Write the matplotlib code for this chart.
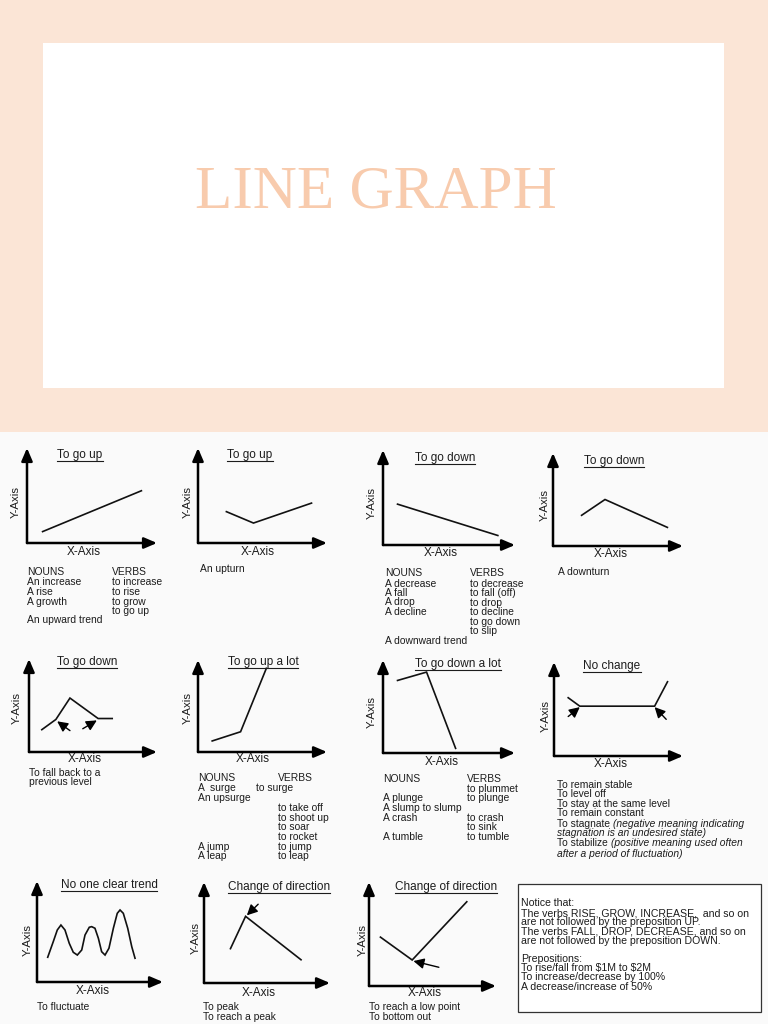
import matplotlib
matplotlib.use("Agg")
import matplotlib.pyplot as plt
from matplotlib.lines import Line2D
from matplotlib.patches import Rectangle

W, H = 768, 1024
INK = "#1c1c1c"

# ---- line data for each mini chart (axis units 0..100) ----
up_x, up_y = [12, 88], [12, 55]
upturn_x, upturn_y = [22, 43, 88], [33, 21, 42]
down_x, down_y = [11, 87], [43, 10]
downturn_x, downturn_y = [22, 40, 88], [33, 50, 20]
fallback_x, fallback_y = [10, 21, 32, 54, 65], [24, 35, 58, 36, 36]
surge_x, surge_y = [11, 33, 53], [12, 22, 91]
plunge_x, plunge_y = [11, 33, 55], [78, 87, 5]
flat_x, flat_y = [11, 20, 78, 88], [62, 53, 53, 79]
fluct_x = [8.5, 12.9, 16.1, 19.0, 22.2, 25.6, 28.8, 32.0, 35.5, 38.1, 41.5, 43.4,
           46.0, 48.7, 51.3, 54.0, 57.1, 60.6, 63.7, 65.9, 68.5, 72.0, 75.2, 77.8]
fluct_y = [24.5, 39.9, 51.5, 56.4, 51.5, 38.3, 29.4, 26.7, 31.7, 46.5, 54.2, 54.8,
           53.2, 43.3, 30.0, 26.7, 33.4, 53.2, 68.0, 71.3, 68.0, 53.2, 35.0, 23.5]
peak_x, peak_y = [21, 33, 77], [34, 66, 23]
low_x, low_y = [9, 34, 77], [47, 25, 81]

# pointer arrows: (tail x, tail y, tip x, tip y)
fallback_ptr = [(32, 23, 22, 33), (42, 25, 53, 34)]
flat_ptr = [(11, 42, 20, 52), (87, 39, 78, 52)]
peak_ptr = [(43, 78, 34, 67)]
low_ptr = [(55, 18, 35, 24)]

titles = ["To go up", "To go up", "To go down", "To go down", "To go down",
          "To go up a lot", "To go down a lot", "No change", "No one clear trend",
          "Change of direction", "Change of direction"]

# page layout (pixels): y-axis x, x-axis y, x arrow tip, y arrow tip
frames = [(27, 543, 157, 448), (198, 543, 327, 448), (383, 545, 515, 450),
          (553, 546, 683, 453), (29, 752, 157, 659), (198, 752, 327, 660),
          (383, 753, 515, 660), (554, 756, 683, 662), (37, 982, 163, 881),
          (204, 983, 330, 882), (369, 986, 496, 882)]
title_pos = [(80, 455), (250, 455), (445, 458), (614, 461), (87, 662), (263, 662),
             (458, 664), (612, 666), (109, 885), (279, 887), (446, 887)]
ylab_pos = [(16, 502), (188, 502), (372, 503), (545, 505), (17, 708), (188, 708),
            (372, 712), (546, 716), (28, 940), (196, 938), (363, 940)]
xlab_pos = [(84, 552), (258, 552), (441, 553), (611, 554), (85, 759), (253, 759),
            (442, 762), (611, 764), (93, 991), (259, 993), (425, 993)]

series = [(up_x, up_y, []), (upturn_x, upturn_y, []), (down_x, down_y, []),
          (downturn_x, downturn_y, []), (fallback_x, fallback_y, fallback_ptr),
          (surge_x, surge_y, []), (plunge_x, plunge_y, []), (flat_x, flat_y, flat_ptr),
          (fluct_x, fluct_y, []), (peak_x, peak_y, peak_ptr), (low_x, low_y, low_ptr)]

# word lists under the charts: (x, y, text)
notes = [
    (27, 572, "NOUNS"), (112, 572, "VERBS"), (27, 582, "An increase"), (112, 582, "to increase"),
    (27, 592, "A rise"), (112, 592, "to rise"), (27, 602, "A growth"), (112, 602, "to grow"),
    (112, 611, "to go up"), (27, 620, "An upward trend"),
    (200, 569, "An upturn"),
    (385, 573, "NOUNS"), (470, 573, "VERBS"), (385, 584, "A decrease"), (470, 584, "to decrease"),
    (385, 593, "A fall"), (470, 593, "to fall (off)"), (385, 602, "A drop"), (470, 603, "to drop"),
    (385, 612, "A decline"), (470, 612, "to decline"), (470, 622, "to go down"),
    (470, 631, "to slip"), (385, 641, "A downward trend"),
    (558, 572, "A downturn"),
    (29, 773, "To fall back to a"), (29, 782, "previous level"),
    (198, 778, "NOUNS"), (278, 778, "VERBS"), (198, 788, "A  surge"), (256, 788, "to surge"),
    (198, 798, "An upsurge"), (278, 808, "to take off"), (278, 818, "to shoot up"),
    (278, 827, "to soar"), (278, 837, "to rocket"), (198, 847, "A jump"), (278, 847, "to jump"),
    (198, 856, "A leap"), (278, 856, "to leap"),
    (383, 779, "NOUNS"), (467, 779, "VERBS"), (467, 789, "to plummet"), (383, 798, "A plunge"),
    (467, 798, "to plunge"), (383, 808, "A slump to slump"), (383, 818, "A crash"),
    (467, 818, "to crash"), (467, 827, "to sink"), (383, 837, "A tumble"), (467, 837, "to tumble"),
    (557, 785, "To remain stable"), (557, 794, "To level off"),
    (557, 804, "To stay at the same level"), (557, 813, "To remain constant"),
    (37, 1007, "To fluctuate"), (203, 1007, "To peak"), (203, 1017, "To reach a peak"),
    (369, 1007, "To reach a low point"), (369, 1017, "To bottom out"),
]
# lines with a plain start and an italic remark
mixed_notes = [(824, "To stagnate", "(negative meaning indicating"),
               (843, "To stabilize", "(positive meaning used often")]
italic_notes = [(557, 833, "stagnation is an undesired state)"),
                (557, 854, "after a period of fluctuation)")]
box_lines = [
    (903, "Notice that:"), (913, "The verbs RISE, GROW, INCREASE,  and so on"),
    (922, "are not followed by the preposition UP."),
    (932, "The verbs FALL, DROP, DECREASE, and so on"),
    (941, "are not followed by the preposition DOWN."),
    (959, "Prepositions:"), (968, "To rise/fall from \\$1M to \\$2M"),
    (977, "To increase/decrease by 100%"), (987, "A decrease/increase of 50%"),
]

plt.rcParams["font.family"] = ["Liberation Sans", "DejaVu Sans"]
BODY = 7.4


def fx(x):
    return x / W


def fy(y):
    return 1 - y / H


fig = plt.figure(figsize=(W / 100, H / 100), dpi=100)
fig.patch.set_facecolor("#fafafa")

# slide header
fig.add_artist(Rectangle((0, fy(432)), 1, 432 / H, transform=fig.transFigure,
                         facecolor="#FBE5D6", edgecolor="none"))
fig.add_artist(Rectangle((fx(43), fy(388)), (724 - 43) / W, (388 - 43) / H,
                         transform=fig.transFigure, facecolor="white", edgecolor="none"))
fig.text(fx(376), fy(193), "LINE GRAPH", ha="center", va="center", fontsize=44,
         family="Liberation Serif", color="#F8CBAD")

axis_arrow = dict(arrowstyle="-|>,head_length=0.7,head_width=0.3", lw=1.8, color="black",
                  mutation_scale=11, shrinkA=0, shrinkB=0)
ptr_arrow = dict(arrowstyle="-|>,head_length=0.7,head_width=0.35", lw=1.0, color="black",
                 mutation_scale=9, shrinkA=0, shrinkB=0)

title_texts = []
for i, (x0, y0, x1, y1) in enumerate(frames):
    ax = fig.add_axes([fx(x0), fy(y0), (x1 - x0) / W, (y0 - y1) / H])
    ax.set_xlim(0, 100)
    ax.set_ylim(0, 100)
    ax.axis("off")
    ax.annotate("", xy=(1, 0), xytext=(0, 0), xycoords="axes fraction", arrowprops=axis_arrow)
    ax.annotate("", xy=(0, 1), xytext=(0, 0), xycoords="axes fraction", arrowprops=axis_arrow)
    xs, ys, ptrs = series[i]
    ax.plot(xs, ys, color="#111111", lw=1.2, solid_joinstyle="miter")
    for tx, ty, hx, hy in ptrs:
        ax.annotate("", xy=(hx, hy), xytext=(tx, ty), arrowprops=ptr_arrow)

    tx, ty = title_pos[i]
    title_texts.append(fig.text(fx(tx), fy(ty), titles[i], ha="center", va="center",
                                fontsize=8.5, color=INK))
    lx, ly = ylab_pos[i]
    fig.text(fx(lx), fy(ly), "Y-Axis", ha="center", va="center", rotation=90,
             fontsize=8.2, color=INK)
    lx, ly = xlab_pos[i]
    fig.text(fx(lx), fy(ly), "X-Axis", ha="center", va="center", fontsize=8.5, color=INK)

for x, y, s in notes:
    fig.text(fx(x), fy(y), s, ha="left", va="center", fontsize=BODY, color=INK)
for x, y, s in italic_notes:
    fig.text(fx(x), fy(y), s, ha="left", va="center", fontsize=BODY, color=INK, style="italic")

# notice box
fig.add_artist(Rectangle((fx(518), fy(1012)), (761 - 518) / W, (1012 - 884) / H,
                         transform=fig.transFigure, facecolor="white", edgecolor="#333333",
                         lw=0.9))
for y, s in box_lines:
    fig.text(fx(521), fy(y), s, ha="left", va="center", fontsize=7.6, color=INK)

fig.canvas.draw()
renderer = fig.canvas.get_renderer()

# italic remarks follow the plain words on the same line
for y, plain, remark in mixed_notes:
    t = fig.text(fx(557), fy(y), plain, ha="left", va="center", fontsize=BODY, color=INK)
    bb = t.get_window_extent(renderer)
    fig.text((bb.x1 + 3) / W, fy(y), remark, ha="left", va="center", fontsize=BODY,
             color=INK, style="italic")

# underline the chart titles
for t in title_texts:
    bb = t.get_window_extent(renderer)
    fig.add_artist(Line2D([bb.x0, bb.x1], [bb.y0, bb.y0], transform=None,
                          color=INK, lw=0.8))

fig.savefig("out.png", dpi=100)
